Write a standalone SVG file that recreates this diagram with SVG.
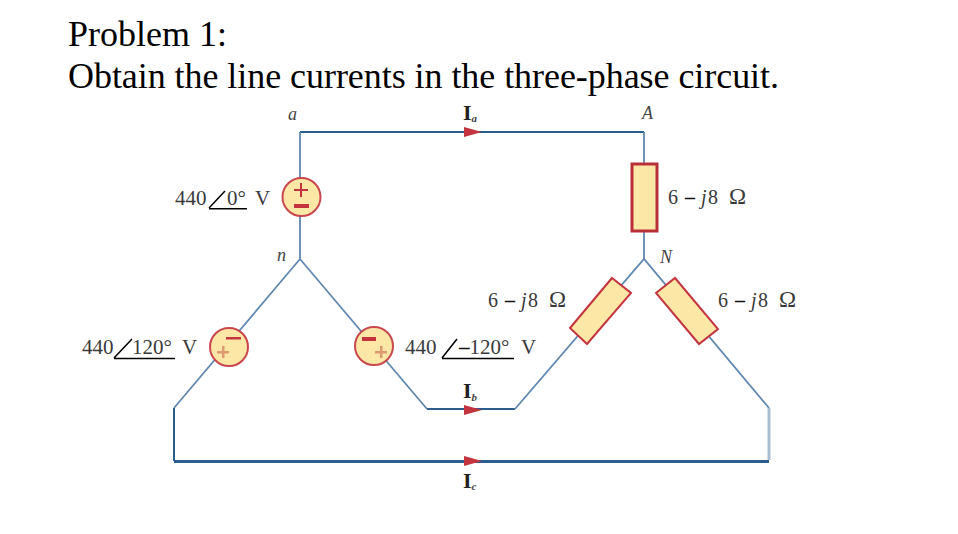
<svg xmlns="http://www.w3.org/2000/svg" width="958" height="534" viewBox="0 0 958 534">
<style>
text{font-family:"Liberation Serif","Times New Roman",serif;fill:#222}
.title{font-size:36px;fill:#000}
.lab{font-size:21px;fill:#3a3a3a}
.imp{font-size:20px;fill:#3a3a3a}
.om{font-size:23px}
.dash{font-weight:bold;fill:#111}
.it{font-style:italic;font-size:18px;fill:#444}
.bold{font-weight:bold;font-size:22px;fill:#222}
.sub{font-style:italic;font-weight:bold;font-size:11px;fill:#444}
.w{fill:none;stroke:#6088b0;stroke-width:1.800}
.d{fill:none;stroke:#2a5c8d;stroke-width:2}
.t{fill:none;stroke:#2a5c8d;stroke-width:3}
.src{fill:#fde7a7;stroke:#c4343f;stroke-width:2;stroke-opacity:.9}
.res{fill:#fde7a7;stroke:#c4343f;stroke-width:2}
.resv{fill:#fde7a7;stroke:#b92f38;stroke-width:3}
.u{stroke:#000;stroke-width:1.500;fill:none}
.pm{fill:#c4343f}
.pf{fill:#dc9a6e}
</style>
<defs>
<polygon id="arr" points="-7,-5 11,0 -7,5" fill="#c4343f"/>
</defs>
<text class="title" x="68" y="46">Problem 1:</text>
<text class="title" x="68" y="88" textLength="711">Obtain the line currents in the three-phase circuit.</text>
<g id="connectors">
<path class="d" d="M300 132H644"/>
<path class="w" d="M300 132V259L174 408"/>
<path class="d" d="M174 408V461"/>
<path class="t" d="M174 461.500H769"/>
<path class="w" d="M300 259L427 409"/>
<path class="d" d="M427 409H515"/>
<path class="w" d="M515 409L644 259L769 408"/>
<path class="w" d="M644 132V259"/>
<path stroke="#a9bdd3" stroke-width="3" fill="none" d="M769 408V460"/>
<use href="#arr" x="471" y="132"/>
<use href="#arr" x="471" y="410"/>
<use href="#arr" x="471" y="461"/>
</g>
<g id="source-a">
<circle class="src" cx="301.500" cy="197" r="19"/>
<rect class="pm" x="300" y="183" width="2" height="14"/><rect class="pm" x="294" y="189" width="14" height="2"/>
<rect class="pm" x="294" y="204" width="15" height="4"/>
<text class="lab" x="175" y="205">440</text><text class="lab" x="227" y="205">0°</text><text class="lab" x="255" y="205">V</text>
<path class="u" d="M209 208L225 191M209 208.700H247"/>
<text class="it" x="288" y="120">a</text>
<text class="it" x="277" y="261">n</text>
</g>
<g id="source-c">
<circle class="src" cx="229" cy="347" r="19"/>
<rect class="pm" x="226" y="337" width="15" height="2.500"/>
<rect class="pf" x="222" y="346" width="2.500" height="12"/><rect class="pf" x="217" y="351" width="12" height="2.500"/>
<text class="lab" x="82" y="354">440</text><text class="lab" x="132" y="354">120°</text><text class="lab" x="182" y="354">V</text>
<path class="u" d="M114 358L132 339M114 358.500H175"/>
</g>
<g id="source-b">
<circle class="src" cx="374" cy="346" r="19"/>
<rect class="pm" x="362" y="337" width="14" height="4"/>
<rect class="pf" x="380" y="346" width="2.500" height="12"/><rect class="pf" x="375" y="351" width="12" height="2.500"/>
<text class="lab" x="405" y="354">440</text><text class="lab" x="459" y="354"><tspan class="dash">–</tspan>120°</text><text class="lab" x="521" y="354">V</text>
<path class="u" d="M442 358L457 339M442 358.500H514"/>
</g>
<g id="load-A">
<rect class="resv" x="632" y="164" width="25" height="67"/>
<text class="imp" x="668" y="204">6<tspan class="dash" x="685">–</tspan><tspan font-style="italic" x="701">j</tspan><tspan x="708">8</tspan><tspan class="om" x="729">Ω</tspan></text>
<text class="it" x="642" y="119">A</text>
<text class="it" x="660" y="263">N</text>
</g>
<g id="load-B">
<polygon class="res" points="612,278 631,293 587,344 570,328"/>
<text class="imp" x="488" y="307">6<tspan class="dash" x="505">–</tspan><tspan font-style="italic" x="521">j</tspan><tspan x="528">8</tspan><tspan class="om" x="549">Ω</tspan></text>
</g>
<g id="load-C">
<polygon class="res" points="656,293 675,278 718,329 699,344"/>
<text class="imp" x="718" y="307">6<tspan class="dash" x="735">–</tspan><tspan font-style="italic" x="751">j</tspan><tspan x="758">8</tspan><tspan class="om" x="779">Ω</tspan></text>
</g>
<g id="currents">
<text class="bold" x="463" y="120">I<tspan class="sub" dy="2">a</tspan></text>
<text class="bold" x="463" y="398">I<tspan class="sub" dy="3">b</tspan></text>
<text class="bold" x="463" y="488">I<tspan class="sub" dy="2">c</tspan></text>
</g>
</svg>
